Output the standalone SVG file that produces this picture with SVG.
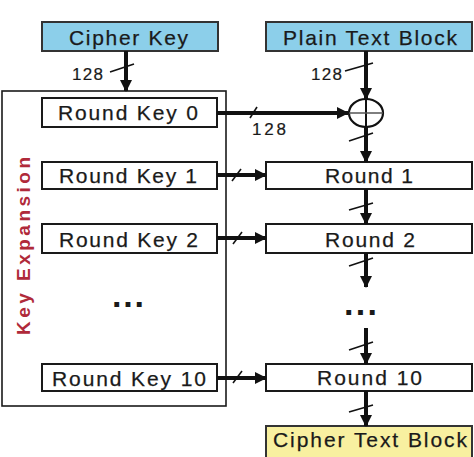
<svg xmlns="http://www.w3.org/2000/svg" width="474" height="457" viewBox="0 0 474 457">
<style>
.box{fill:#ffffff;stroke:#1a1a1a;stroke-width:2}
.blue{fill:#8ccfea;stroke:#333333;stroke-width:2}
.yellow{fill:#f8f0a0;stroke:#333333;stroke-width:2}
.outer{fill:#ffffff;stroke:#1a1a1a;stroke-width:1.6}
.t{font-family:"Liberation Sans",Arial,sans-serif;font-size:21px;fill:#1a1a1a;stroke:#1a1a1a;stroke-width:0.25;text-anchor:middle}
.n{font-family:"Liberation Sans",Arial,sans-serif;font-size:17px;fill:#1a1a1a;stroke:#1a1a1a;stroke-width:0.2}
.dots{font-family:"Liberation Sans",Arial,sans-serif;font-size:34px;font-weight:bold;fill:#1a1a1a}
.ke{font-family:"Liberation Sans",Arial,sans-serif;font-size:19px;font-weight:bold;fill:#b02a3a;text-anchor:middle}
.arr{stroke:#111111;stroke-width:4;fill:none}
.tick{stroke:#111111;stroke-width:1.6;fill:none}
.xor{fill:#ffffff;stroke:#111111;stroke-width:2.2}
</style>
<defs>
<marker id="ah" markerUnits="userSpaceOnUse" markerWidth="12" markerHeight="12" refX="11" refY="6" orient="auto">
<path d="M0,0 L12,6 L0,12 z" fill="#111111"/>
</marker>
</defs>
<rect width="474" height="457" fill="#ffffff"/>

<g id="key-expansion">
<rect class="outer" x="2" y="91" width="224" height="315"/>
<text class="ke" transform="translate(30,246) rotate(-90)" textLength="178" lengthAdjust="spacing">Key Expansion</text>
</g>

<g id="cipher-key">
<rect class="blue" x="42" y="22" width="176" height="29"/>
<text class="t" x="128.5" y="45" textLength="119" lengthAdjust="spacing">Cipher Key</text>
</g>

<g id="plain-text-block">
<rect class="blue" x="266" y="22" width="206" height="29"/>
<text class="t" x="370" y="45" textLength="174" lengthAdjust="spacing">Plain Text Block</text>
</g>

<g id="round-key-0">
<rect class="box" x="42" y="98" width="175" height="29"/>
<text class="t" x="128" y="120" textLength="140" lengthAdjust="spacing">Round Key 0</text>
</g>

<g id="xor">
<ellipse class="xor" cx="366" cy="113" rx="17" ry="14"/>
<line x1="366" y1="99" x2="366" y2="127" stroke="#111111" stroke-width="2"/>
<line x1="349" y1="113" x2="383" y2="113" stroke="#555555" stroke-width="1.6"/>
</g>

<g id="round-key-1">
<rect class="box" x="42" y="162" width="175" height="27"/>
<text class="t" x="128" y="183" textLength="138" lengthAdjust="spacing">Round Key 1</text>
</g>

<g id="round-1">
<rect class="box" x="266" y="162" width="206" height="27"/>
<text class="t" x="369" y="183" textLength="88" lengthAdjust="spacing">Round 1</text>
</g>

<g id="round-key-2">
<rect class="box" x="42" y="224" width="175" height="29"/>
<text class="t" x="128.5" y="247" textLength="139" lengthAdjust="spacing">Round Key 2</text>
</g>

<g id="round-2">
<rect class="box" x="266" y="224" width="206" height="29"/>
<text class="t" x="370" y="247" textLength="90" lengthAdjust="spacing">Round 2</text>
</g>

<g id="ellipsis-left">
<text class="dots" x="112" y="307" textLength="32" lengthAdjust="spacing">...</text>
</g>

<g id="ellipsis-right">
<text class="dots" x="344" y="315" textLength="33" lengthAdjust="spacing">...</text>
</g>

<g id="round-key-10">
<rect class="box" x="42" y="364" width="175" height="27"/>
<text class="t" x="129" y="386" textLength="154" lengthAdjust="spacing">Round Key 10</text>
</g>

<g id="round-10">
<rect class="box" x="266" y="364" width="206" height="27"/>
<text class="t" x="369.5" y="385" textLength="105" lengthAdjust="spacing">Round 10</text>
</g>

<g id="cipher-text-block">
<rect class="yellow" x="266" y="426" width="206" height="32"/>
<text class="t" x="370" y="447" textLength="194" lengthAdjust="spacing">Cipher Text Block</text>
</g>

<g id="connectors">
<line class="arr" x1="126" y1="51" x2="126" y2="91" marker-end="url(#ah)"/>
<line class="arr" x1="366" y1="51" x2="366" y2="99" marker-end="url(#ah)"/>
<line class="arr" x1="217" y1="113" x2="348" y2="113" marker-end="url(#ah)"/>
<line class="arr" x1="366" y1="127" x2="366" y2="162" marker-end="url(#ah)"/>
<line class="arr" x1="217" y1="175" x2="266" y2="175" marker-end="url(#ah)"/>
<line class="arr" x1="366" y1="189" x2="366" y2="224" marker-end="url(#ah)"/>
<line class="arr" x1="217" y1="238" x2="266" y2="238" marker-end="url(#ah)"/>
<line class="arr" x1="366" y1="253" x2="366" y2="287" marker-end="url(#ah)"/>
<line class="arr" x1="366" y1="328" x2="366" y2="364" marker-end="url(#ah)"/>
<line class="arr" x1="217" y1="378" x2="266" y2="378" marker-end="url(#ah)"/>
<line class="arr" x1="366" y1="391" x2="366" y2="426" marker-end="url(#ah)"/>

<line class="tick" x1="110" y1="72" x2="134" y2="64"/>
<line class="tick" x1="345" y1="71" x2="373" y2="63"/>
<line class="tick" x1="250" y1="118" x2="257" y2="107"/>
<line class="tick" x1="349" y1="141" x2="373" y2="133"/>
<line class="tick" x1="232" y1="181" x2="241" y2="169"/>
<line class="tick" x1="349" y1="210" x2="373" y2="203"/>
<line class="tick" x1="233" y1="244" x2="242" y2="232"/>
<line class="tick" x1="349" y1="266" x2="373" y2="258"/>
<line class="tick" x1="349" y1="350" x2="373" y2="342"/>
<line class="tick" x1="233" y1="383" x2="242" y2="371"/>
<line class="tick" x1="349" y1="412" x2="373" y2="405"/>

<text class="n" x="72" y="80" textLength="31" lengthAdjust="spacing">128</text>
<text class="n" x="311" y="80" textLength="31" lengthAdjust="spacing">128</text>
<text class="n" x="252" y="135" textLength="34" lengthAdjust="spacing">128</text>
</g>
</svg>
